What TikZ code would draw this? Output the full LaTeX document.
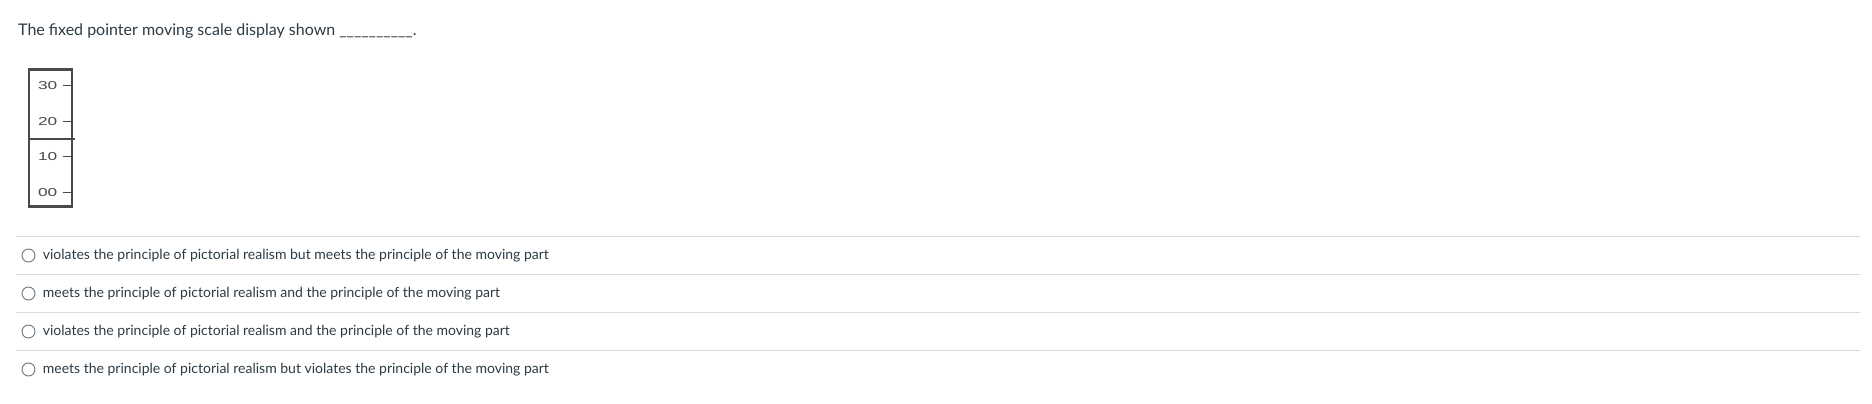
\documentclass[tikz,border=0pt]{standalone}
\usepackage{fontspec}
\setmainfont{Lato}
\newfontfamily\scalefont{Liberation Sans}
\definecolor{txt}{HTML}{2D3B45}
\definecolor{sep}{HTML}{D7DBDE}
\definecolor{radio}{HTML}{6B7780}
\definecolor{ink}{HTML}{4A4A4A}
\tikzset{
  qtext/.style={anchor=base west, inner sep=0pt, text=txt, font=\fontsize{16}{19}\selectfont},
  opttext/.style={anchor=base west, inner sep=0pt, text=txt, font=\fontsize{14}{17}\selectfont},
  radiobtn/.style={circle, draw=radio, line width=0.9pt, minimum size=13pt, inner sep=0pt},
  seprule/.style={draw=sep, line width=0.8pt},
  scalelbl/.style={anchor=center, inner sep=0pt, text=ink, font=\scalefont\fontsize{11.5}{13}\selectfont},
  tickmark/.style={draw=ink, line width=1.1pt},
  frame/.style={draw=ink, line width=2.4pt}
}
\begin{document}
\begin{tikzpicture}[x=1pt,y=-1pt]
\useasboundingbox[fill=white] (0,0) rectangle (1872,404);
% question
\node[qtext] (title) at (18,36) {The fixed pointer moving scale display shown \_\_\_\_\_\_\_\_\_\_.};
% scale display
\node[frame, minimum width=43pt, minimum height=137pt, inner sep=0pt] (box) at (50.2,138) {};
\coordinate (midL) at (28,139);
\coordinate (midR) at (74.5,139);
\draw[draw=ink, line width=1.6pt] (midL) -- (midR);
\foreach \v/\y/\n in {30/86/a,20/122/b,10/157/c,00/193/d}{
  \node[scalelbl] (lbl\n) at (47.7,\y) {\scalebox{1.5}[1]{\v}};
  \coordinate (t\n s) at (62.7,\y-0.8);
  \coordinate (t\n e) at (71,\y-0.8);
  \draw[tickmark] (t\n s) -- (t\n e);
}
% separators
\foreach \y/\n in {236.4/1,274.4/2,312.6/3,350.8/4}{
  \coordinate (sl\n) at (16,\y);
  \coordinate (sr\n) at (1860,\y);
  \draw[seprule] (sl\n) -- (sr\n);
}
% options
\node[radiobtn] (r1) at (28.5,255.5) {};
\node[opttext] (o1) at (42.7,259.5) {violates the principle of pictorial realism but meets the principle of the moving part};
\node[radiobtn] (r2) at (28.5,293.5) {};
\node[opttext] (o2) at (42.7,297.5) {meets the principle of pictorial realism and the principle of the moving part};
\node[radiobtn] (r3) at (28.5,331.5) {};
\node[opttext] (o3) at (42.7,335.5) {violates the principle of pictorial realism and the principle of the moving part};
\node[radiobtn] (r4) at (28.5,369.5) {};
\node[opttext] (o4) at (42.7,373.5) {meets the principle of pictorial realism but violates the principle of the moving part};
\end{tikzpicture}
\end{document}
